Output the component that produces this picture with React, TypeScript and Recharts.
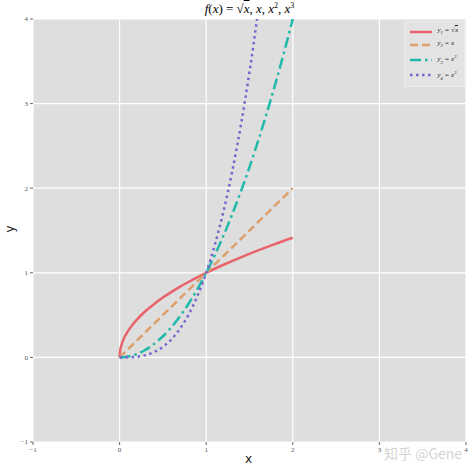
import React from 'react';
import { LineChart, Line, XAxis, YAxis, CartesianGrid } from 'recharts';

// values (x from 0 to 2)
const sqrtX = [0, 0.005, 0.02, 0.05, 0.1, 0.15, 0.2, 0.3, 0.4, 0.5, 0.6, 0.7, 0.8, 0.9, 1.0, 1.2, 1.4, 1.6, 1.8, 2.0];
const sqrtY = [0, 0.071, 0.141, 0.224, 0.316, 0.387, 0.447, 0.548, 0.632, 0.707, 0.775, 0.837, 0.894, 0.949, 1.0, 1.095, 1.183, 1.265, 1.342, 1.414];

const linX = [0, 1, 2];
const linY = [0, 1, 2];

const sqX = [0, 0.1, 0.2, 0.3, 0.4, 0.5, 0.6, 0.7, 0.8, 0.9, 1.0, 1.1, 1.2, 1.3, 1.4, 1.5, 1.6, 1.7, 1.8, 1.9, 2.0];
const sqY = [0, 0.01, 0.04, 0.09, 0.16, 0.25, 0.36, 0.49, 0.64, 0.81, 1.0, 1.21, 1.44, 1.69, 1.96, 2.25, 2.56, 2.89, 3.24, 3.61, 4.0];

const cubeX = [0, 0.1, 0.2, 0.3, 0.4, 0.5, 0.6, 0.7, 0.8, 0.9, 1.0, 1.1, 1.2, 1.3, 1.4, 1.5, 1.6, 1.7];
const cubeY = [0, 0.001, 0.008, 0.027, 0.064, 0.125, 0.216, 0.343, 0.512, 0.729, 1.0, 1.331, 1.728, 2.197, 2.744, 3.375, 4.096, 4.913];

const xTicks = [-1, 0, 1, 2, 3, 4];
const yTicks = [-1, 0, 1, 2, 3, 4];

const zip = (xs: number[], ys: number[]) => xs.map((x, i) => ({ x, y: ys[i] }));

const series = [
    { name: 'y1', data: zip(sqrtX, sqrtY), color: '#E8646A', dash: undefined, sub: '1', label: 'sqrt' },
    { name: 'y2', data: zip(linX, linY), color: '#DBA06C', dash: '8 4', sub: '2', label: 'x' },
    { name: 'y3', data: zip(sqX, sqY), color: '#20B9AA', dash: '11 4 2.5 4', sub: '3', label: '2' },
    { name: 'y4', data: zip(cubeX, cubeY), color: '#7566CC', dash: '2.5 3.5', sub: '4', label: '3' },
];

const serif = '"Liberation Serif", "DejaVu Serif", serif';
const tickStyle = { fontSize: 7, fill: '#555', fontFamily: serif };
const fmt = (v: number) => (v < 0 ? '\u2212' + Math.abs(v) : String(v));

const LegendBox = () => (
    <div
        style={{
            position: 'absolute',
            top: 21,
            right: 9,
            background: '#E3E3E3',
            border: '1px solid #EAEAEA',
            padding: '3px 6px 3px 5px',
            fontFamily: serif,
            fontStyle: 'italic',
            fontSize: 7,
            color: '#222',
            lineHeight: '10px',
            zIndex: 2,
        }}
    >
        {series.map((s) => (
            <div key={s.name} style={{ display: 'flex', alignItems: 'center' }}>
                <svg width={22} height={6} style={{ marginRight: 5 }}>
                    <line x1={0} y1={3} x2={22} y2={3} stroke={s.color} strokeWidth={2.5} strokeDasharray={s.dash} />
                </svg>
                <span>
                    y<sub style={{ fontSize: 4.5 }}>{s.sub}</sub> = {s.label === 'sqrt' ? (
                        <span>√<span style={{ textDecoration: 'overline' }}>x</span></span>
                    ) : s.label === 'x' ? 'x' : (
                        <span>x<sup style={{ fontSize: 4.5 }}>{s.label}</sup></span>
                    )}
                </span>
            </div>
        ))}
    </div>
);

export default function App() {
    return (
        <div style={{ position: 'absolute', left: 0, top: 0, width: 474, height: 474, background: '#fff' }}>
            <div
                style={{
                    position: 'absolute',
                    top: 1,
                    left: 33,
                    width: 433,
                    textAlign: 'center',
                    fontFamily: serif,
                    fontSize: 13,
                    zIndex: 2,
                }}
            >
                <i>f</i>(<i>x</i>) = √<span style={{ textDecoration: 'overline' }}><i>x</i></span>, <i>x</i>, <i>x</i>
                <sup style={{ fontSize: 8 }}>2</sup>, <i>x</i><sup style={{ fontSize: 8 }}>3</sup>
            </div>
            <div
                style={{
                    position: 'absolute',
                    left: 6,
                    top: 222,
                    fontFamily: '"DejaVu Sans", sans-serif',
                    fontSize: 12,
                    transform: 'rotate(-90deg)',
                    color: '#222',
                }}
            >
                y
            </div>
            <div
                style={{
                    position: 'absolute',
                    left: 245,
                    top: 452,
                    fontFamily: '"DejaVu Sans", sans-serif',
                    fontSize: 12,
                    color: '#222',
                }}
            >
                x
            </div>
            <div
                style={{
                    position: 'absolute',
                    left: 384,
                    top: 443,
                    fontFamily: '"Noto Sans CJK SC", sans-serif',
                    fontSize: 14,
                    color: '#D4D4D4',
                    zIndex: 2,
                }}
            >
                知乎 @Gene
            </div>
            <LegendBox />
            <LineChart width={474} height={474} margin={{ top: 19, right: 8, bottom: 0, left: 0 }}>
                <CartesianGrid fill="#DEDEDE" stroke="#FFFFFF" strokeWidth={1.2} />
                <XAxis
                    type="number"
                    dataKey="x"
                    domain={[-1, 4]}
                    ticks={xTicks}
                    allowDataOverflow
                    axisLine={false}
                    tickLine={{ stroke: '#666' }}
                    tickSize={3}
                    tick={tickStyle}
                    tickFormatter={fmt}
                    height={32}
                />
                <YAxis
                    type="number"
                    dataKey="y"
                    domain={[-1, 4]}
                    ticks={yTicks}
                    allowDataOverflow
                    axisLine={false}
                    tickLine={{ stroke: '#666' }}
                    tickSize={3}
                    tick={tickStyle}
                    tickFormatter={fmt}
                    width={33}
                />
                {series.map((s) => (
                    <Line
                        key={s.name}
                        data={s.data}
                        dataKey="y"
                        name={s.name}
                        type="monotone"
                        stroke={s.color}
                        strokeWidth={2.5}
                        strokeDasharray={s.dash}
                        dot={false}
                        activeDot={false}
                        isAnimationActive={false}
                    />
                ))}
            </LineChart>
        </div>
    );
}
